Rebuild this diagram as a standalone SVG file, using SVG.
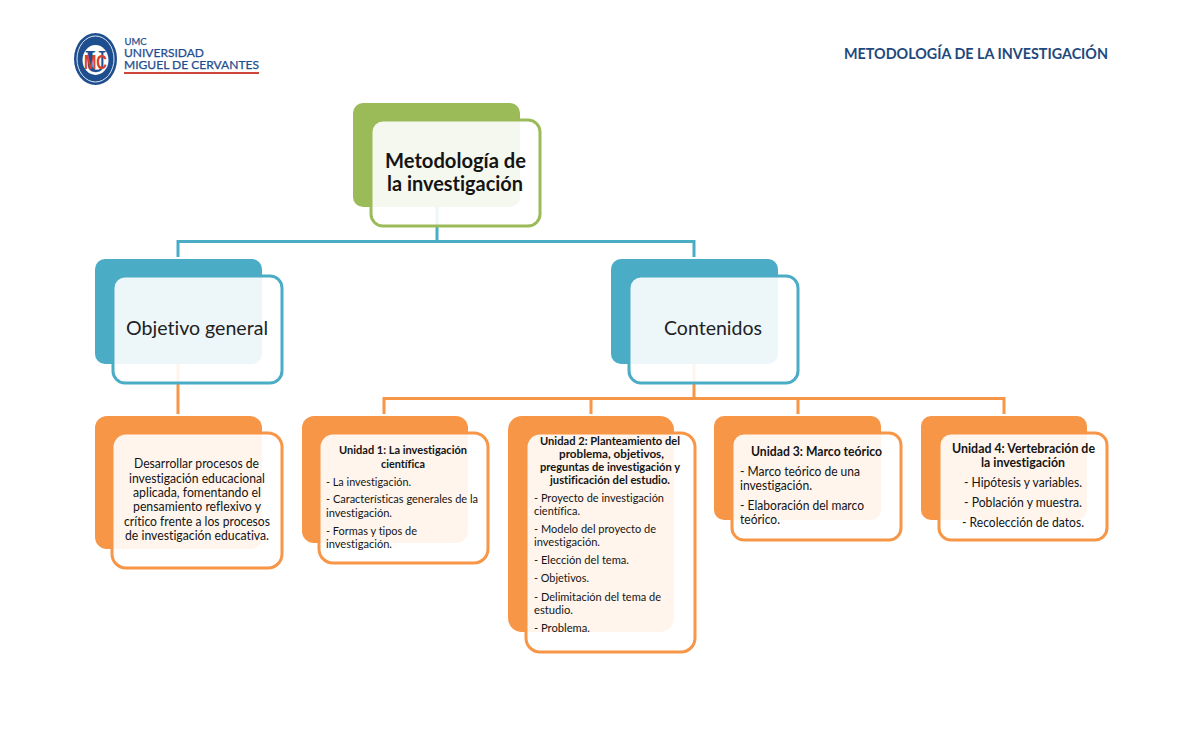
<svg xmlns="http://www.w3.org/2000/svg" width="1200" height="729" viewBox="0 0 1200 729">
<style>
text{font-family:Lato,"Liberation Sans",sans-serif;fill:#141414;font-size:12.5px;font-variant-ligatures:none}
.b{font-weight:700}
.big{font-size:20px}
.big2{font-size:19.5px;fill:#222}
.brand{fill:#1f4e8f;stroke:#1f4e8f;stroke-width:.25}
.g{fill:#9bbb59}.gf{stroke:#9bbb59}
.t{fill:#4bacc6}.tf{stroke:#4bacc6}
.o{fill:#f79646}.of{stroke:#f79646}
.f{fill:#fff;fill-opacity:.9;stroke-width:3}
.c{fill:none;stroke-width:3}
</style>
<rect width="1200" height="729" fill="#fff"/>
<g id="logo">
<ellipse cx="95.500" cy="59" rx="21.500" ry="26" fill="#1f4e8f"/>
<ellipse cx="95.500" cy="59" rx="18.500" ry="23" fill="none" stroke="#dfe7f2" stroke-width="1"/>
<ellipse cx="95.500" cy="60" rx="13" ry="15" fill="#fff"/>
<text x="85" y="72" class="brand" style="font-family:'Liberation Serif',serif;font-size:32px;font-weight:700" textLength="21" lengthAdjust="spacingAndGlyphs">U</text>
<text x="84" y="69" style="font-family:'Liberation Sans',sans-serif;font-size:21px;font-weight:700;fill:#d8402b" textLength="23" lengthAdjust="spacingAndGlyphs">MC</text>
<text x="124.500" y="45" class="brand" style="font-size:10px" textLength="22" lengthAdjust="spacingAndGlyphs">UMC</text>
<text x="124" y="56.800" class="brand" style="font-size:11.500px" textLength="80" lengthAdjust="spacingAndGlyphs">UNIVERSIDAD</text>
<text x="124" y="68.800" class="brand" style="font-size:11.500px" textLength="135" lengthAdjust="spacingAndGlyphs">MIGUEL DE CERVANTES</text>
<rect x="124" y="72" width="135" height="2" fill="#d0453a"/>
</g>
<g id="header"><text x="844" y="58.500" class="b" style="font-size:15px;fill:#1f497d" textLength="264" lengthAdjust="spacingAndGlyphs">METODOLOGÍA DE LA INVESTIGACIÓN</text></g>
<g id="connectors">
<path class="c tf" d="M437 207V241M178 257V241.500H694V257"/>
<path class="c of" d="M178 364V414M694 364V398M384 414V398.500H1004V414M591 398V414M798 398V414"/>
</g>
<g id="node-metodologia">
<rect class="g" x="353" y="103" width="167" height="104" rx="10"/>
<rect class="f gf" x="371" y="120" width="169" height="106" rx="12"/>
<text x="385" y="168" class="b big" textLength="141" lengthAdjust="spacingAndGlyphs">Metodología de</text>
<text x="387" y="191" class="b big" textLength="136" lengthAdjust="spacingAndGlyphs">la investigación</text>
</g>
<g id="node-objetivo">
<rect class="t" x="95" y="259" width="167" height="105" rx="10"/>
<rect class="f tf" x="113" y="276" width="169" height="107" rx="12"/>
<text x="126" y="335" class="big2" textLength="142" lengthAdjust="spacingAndGlyphs">Objetivo general</text>
</g>
<g id="node-contenidos">
<rect class="t" x="611" y="259" width="167" height="105" rx="10"/>
<rect class="f tf" x="629" y="276" width="169" height="107" rx="12"/>
<text x="664" y="335" class="big2" textLength="98" lengthAdjust="spacingAndGlyphs">Contenidos</text>
</g>
<g id="node-desarrollar">
<rect class="o" x="95" y="416" width="167" height="133" rx="12"/>
<rect class="f of" x="112" y="433" width="170" height="135" rx="14"/>
<text x="134" y="468" style="font-size:13px" textLength="125" lengthAdjust="spacingAndGlyphs">Desarrollar procesos de</text>
<text x="129" y="482.500" style="font-size:13px" textLength="136" lengthAdjust="spacingAndGlyphs">investigación educacional</text>
<text x="133" y="497" style="font-size:13px" textLength="128" lengthAdjust="spacingAndGlyphs">aplicada, fomentando el</text>
<text x="133" y="511" style="font-size:13px" textLength="128" lengthAdjust="spacingAndGlyphs">pensamiento reflexivo y</text>
<text x="124" y="526" style="font-size:13px" textLength="146" lengthAdjust="spacingAndGlyphs">crítico frente a los procesos</text>
<text x="125" y="540" style="font-size:13px" textLength="144" lengthAdjust="spacingAndGlyphs">de investigación educativa.</text>
</g>
<g id="node-unidad1">
<rect class="o" x="302" y="416" width="166" height="127" rx="12"/>
<rect class="f of" x="319" y="433" width="169" height="130" rx="14"/>
<text x="339" y="454" class="b" style="font-size:11.500px" textLength="128" lengthAdjust="spacingAndGlyphs">Unidad 1: La investigación</text>
<text x="381" y="467.500" class="b" style="font-size:11.500px" textLength="44" lengthAdjust="spacingAndGlyphs">científica</text>
<text x="326" y="486" style="font-size:11.500px" textLength="85" lengthAdjust="spacingAndGlyphs">- La investigación.</text>
<text x="326" y="503" style="font-size:11.500px" textLength="152" lengthAdjust="spacingAndGlyphs">- Características generales de la</text>
<text x="326" y="517" style="font-size:11.500px" textLength="66" lengthAdjust="spacingAndGlyphs">investigación.</text>
<text x="326" y="535" style="font-size:11.500px" textLength="91" lengthAdjust="spacingAndGlyphs">- Formas y tipos de</text>
<text x="326" y="548" style="font-size:11.500px" textLength="66" lengthAdjust="spacingAndGlyphs">investigación.</text>
</g>
<g id="node-unidad2">
<rect class="o" x="508" y="416" width="166" height="216" rx="14"/>
<rect class="f of" x="526" y="433" width="169" height="219" rx="14"/>
<text x="540" y="445" class="b" style="font-size:11.500px" textLength="140" lengthAdjust="spacingAndGlyphs">Unidad 2: Planteamiento del</text>
<text x="559" y="458" class="b" style="font-size:11.500px" textLength="105" lengthAdjust="spacingAndGlyphs">problema, objetivos,</text>
<text x="540" y="471" class="b" style="font-size:11.500px" textLength="140" lengthAdjust="spacingAndGlyphs">preguntas de investigación y</text>
<text x="550" y="483.500" class="b" style="font-size:11.500px" textLength="120" lengthAdjust="spacingAndGlyphs">justificación del estudio.</text>
<text x="534" y="502" style="font-size:11.500px" textLength="130" lengthAdjust="spacingAndGlyphs">- Proyecto de investigación</text>
<text x="534" y="515" style="font-size:11.500px" textLength="46" lengthAdjust="spacingAndGlyphs">científica.</text>
<text x="534" y="533" style="font-size:11.500px" textLength="122" lengthAdjust="spacingAndGlyphs">- Modelo del proyecto de</text>
<text x="534" y="546" style="font-size:11.500px" textLength="66" lengthAdjust="spacingAndGlyphs">investigación.</text>
<text x="534" y="564" style="font-size:11.500px" textLength="95" lengthAdjust="spacingAndGlyphs">- Elección del tema.</text>
<text x="534" y="582" style="font-size:11.500px" textLength="55" lengthAdjust="spacingAndGlyphs">- Objetivos.</text>
<text x="534" y="601" style="font-size:11.500px" textLength="127" lengthAdjust="spacingAndGlyphs">- Delimitación del tema de</text>
<text x="534" y="614" style="font-size:11.500px" textLength="39" lengthAdjust="spacingAndGlyphs">estudio.</text>
<text x="534" y="632" style="font-size:11.500px" textLength="56" lengthAdjust="spacingAndGlyphs">- Problema.</text>
</g>
<g id="node-unidad3">
<rect class="o" x="714" y="416" width="167" height="104" rx="10"/>
<rect class="f of" x="732" y="433" width="169" height="107" rx="12"/>
<text x="751" y="455.500" class="b" style="font-size:12.500px" textLength="131" lengthAdjust="spacingAndGlyphs">Unidad 3: Marco teórico</text>
<text x="740" y="475.500" textLength="120" lengthAdjust="spacingAndGlyphs">- Marco teórico de una</text>
<text x="740" y="490" textLength="72" lengthAdjust="spacingAndGlyphs">investigación.</text>
<text x="740" y="509.500" textLength="124" lengthAdjust="spacingAndGlyphs">- Elaboración del marco</text>
<text x="740" y="524" textLength="40" lengthAdjust="spacingAndGlyphs">teórico.</text>
</g>
<g id="node-unidad4">
<rect class="o" x="921" y="416" width="166" height="104" rx="10"/>
<rect class="f of" x="939" y="433" width="168" height="107" rx="12"/>
<text x="952" y="452.500" class="b" textLength="143" lengthAdjust="spacingAndGlyphs">Unidad 4: Vertebración de</text>
<text x="981" y="467" class="b" textLength="84" lengthAdjust="spacingAndGlyphs">la investigación</text>
<text x="964" y="487" textLength="118" lengthAdjust="spacingAndGlyphs">- Hipótesis y variables.</text>
<text x="964" y="507" textLength="118" lengthAdjust="spacingAndGlyphs">- Población y muestra.</text>
<text x="962" y="527" textLength="122" lengthAdjust="spacingAndGlyphs">- Recolección de datos.</text>
</g>
</svg>
